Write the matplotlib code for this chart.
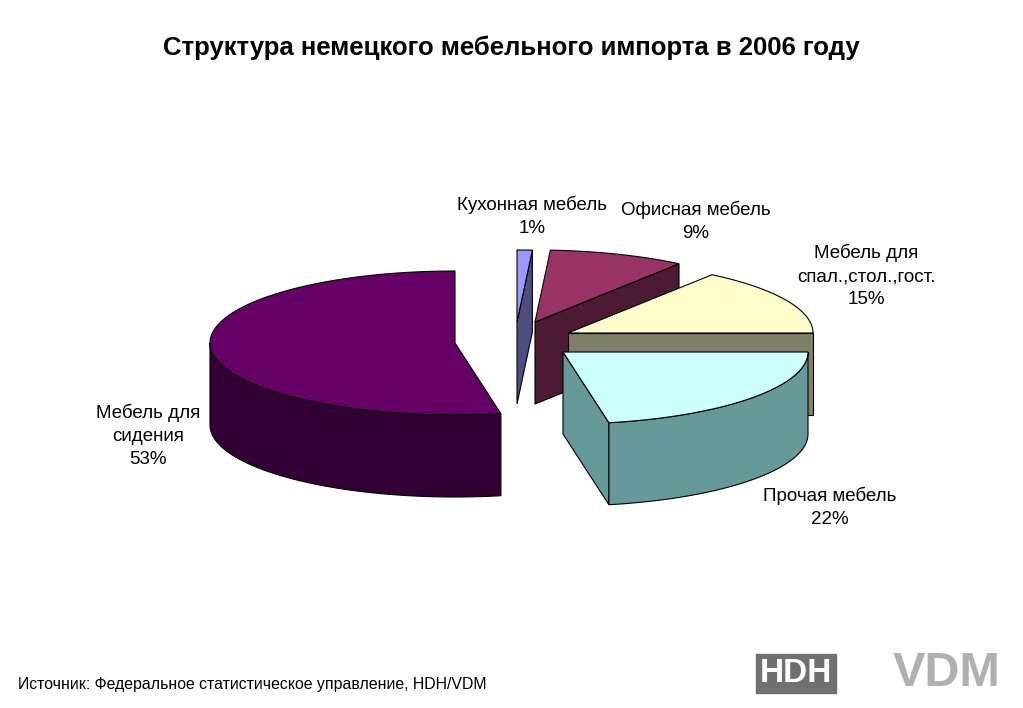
import numpy as np
import matplotlib.pyplot as plt
from matplotlib.patches import Polygon

plt.rcParams['font.family'] = 'Liberation Sans'

# данные
labels = ['Кухонная мебель', 'Офисная мебель', 'Мебель для\nспал.,стол.,гост.',
          'Прочая мебель', 'Мебель для\nсидения']
shares = [1, 9, 15, 22, 53]
top_colors = ['#9999FF', '#993366', '#FFFFCC', '#CCFFFF', '#660066']
side_colors = ['#4D4D80', '#4D1A33', '#808066', '#669999', '#330033']
# смещения центров (пиксели)
centers = [(517, 322), (535, 322), (568, 333), (563, 352), (455, 343)]
label_pos = [(532, 216), (696, 221), (866, 276), (830, 507), (148, 436)]

rx, ry, depth = 245, 72, 82

fig = plt.figure(figsize=(10.23, 7.08), dpi=100)
ax = fig.add_axes([0, 0, 1, 1])
ax.set_xlim(0, 1023)
ax.set_ylim(708, 0)
ax.axis('off')


def pt(c, a, dz=0):
    r = np.radians(a)
    return (c[0] + rx * np.cos(r), c[1] - ry * np.sin(r) + dz)


# углы: от 90° по часовой стрелке
ends = 90 - np.cumsum([0] + shares) * 3.6
for i in range(len(shares)):
    a2, a1 = ends[i], ends[i + 1]  # a1 < a2
    c = centers[i]
    ec = dict(edgecolor='black', linewidth=0.8)
    # радиальные стенки (только видимые)
    for a, vis in ((a1, np.cos(np.radians(a1)) > 1e-6),
                   (a2, np.cos(np.radians(a2)) < -1e-6)):
        if not vis:
            continue
        p = pt(c, a)
        ax.add_patch(Polygon([c, p, (p[0], p[1] + depth), (c[0], c[1] + depth)],
                             facecolor=side_colors[i], **ec))
    # внешняя стенка (передняя половина)
    b1, b2 = a1 % 360, a1 % 360 + (a2 - a1)
    lo, hi = max(b1, 180), min(b2, 360)
    if hi > lo:
        t = np.linspace(lo, hi, 80)
        upper = [pt(c, a) for a in t]
        lower = [pt(c, a, depth) for a in t[::-1]]
        ax.add_patch(Polygon(upper + lower, facecolor=side_colors[i], **ec))
    # верх
    t = np.linspace(a1, a2, 120)
    ax.add_patch(Polygon([c] + [pt(c, a) for a in t], facecolor=top_colors[i], **ec))
    x, y = label_pos[i]
    ax.text(x, y, f'{labels[i]}\n{shares[i]}%', ha='center', va='center',
            fontsize=13.5, linespacing=1.45)

ax.text(511, 48, 'Структура немецкого мебельного импорта в 2006 году',
        ha='center', va='center', fontsize=18.5, fontweight='bold')
ax.text(18, 684, 'Источник: Федеральное статистическое управление, HDH/VDM',
        ha='left', va='center', fontsize=11.4)
ax.text(796, 673, 'HDH', ha='center', va='center', fontsize=24, fontweight='bold',
        color='white', bbox=dict(boxstyle='square,pad=0.12', facecolor='#707070',
                                 edgecolor='#707070'))
ax.text(947, 673, 'VDM', ha='center', va='center', fontsize=35, fontweight='bold',
        color='#B0B0B0')

fig.savefig('out.png', dpi=100)
